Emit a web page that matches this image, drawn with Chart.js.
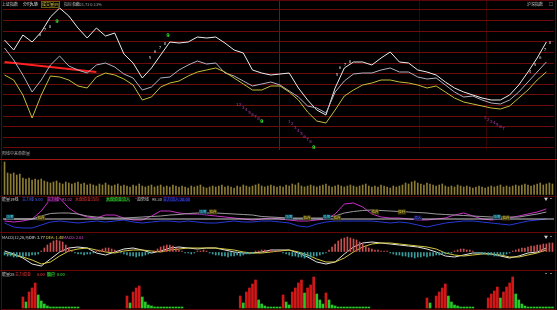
<!DOCTYPE html>
<html><head><meta charset="utf-8">
<script src="https://cdn.jsdelivr.net/npm/chart.js@4.4.0/dist/chart.umd.min.js"></script>
<style>
html,body{margin:0;padding:0;background:#000;}
#wrap{position:relative;width:557px;height:310px;background:#000;overflow:hidden;}
canvas{position:absolute;left:0;}
.t{position:absolute;font-family:"Noto Sans CJK SC","Noto Sans",sans-serif;font-size:4px;line-height:5px;white-space:nowrap;color:#c8c8c8;}
.hl{position:absolute;left:0;width:557px;height:1px;background:#6a0808;}
#frame{position:absolute;left:1px;top:0;width:553px;height:308px;border:1px solid #5a0606;}
</style></head><body>
<div id="wrap">
<canvas id="cMain" width="557" height="150" style="top:0"></canvas>
<canvas id="cVol" width="557" height="46" style="top:149px"></canvas>
<canvas id="cEng" width="557" height="36" style="top:196px"></canvas>
<canvas id="cMacd" width="557" height="38" style="top:232px"></canvas>
<canvas id="cBot" width="557" height="40" style="top:270px"></canvas>
<div id="frame"></div>
<div class="hl" style="top:159px;background:#a01414"></div>
<div class="hl" style="top:196px;background:#4a0606"></div>
<div class="hl" style="top:232px"></div>
<div class="hl" style="top:270px"></div>

<span class="t" style="left:2px;top:2px;color:#d0d0d0">上证指数</span>
<span class="t" style="left:23px;top:2px;color:#d0d0d0">分时</span>
<span class="t" style="left:30px;top:2px;color:#ffffff">九转</span>
<span class="t" style="left:42px;top:2px;color:#e8d850;outline:1px solid #6a5a10">成交量(R)</span>
<span class="t" style="left:64px;top:2px;color:#a8a8a8">指标参数</span>
<span class="t" style="left:75px;top:2px;color:#a8a8a8">2021.73 0.13%</span>
<span class="t" style="left:527px;top:2px;color:#c8c8c8">沪深指数</span>
<span class="t" style="left:549px;top:2px;color:#c8c8c8">□</span>

<span class="t" style="left:2px;top:151px;color:#a8a8a8">阳线中来单数量</span>

<span class="t" style="left:2px;top:197px;color:#c8c8c8">能量19线</span>
<span class="t" style="left:22px;top:197px;color:#4a64ff">主力线</span>
<span class="t" style="left:35px;top:197px;color:#4a64ff">5.00</span>
<span class="t" style="left:47px;top:197px;color:#e848e8;background:#3a0a3a">主力线</span>
<span class="t" style="left:62px;top:197px;color:#e848e8">92.02</span>
<span class="t" style="left:75px;top:197px;color:#ff3a3a">大盘资金流向</span>
<span class="t" style="left:106px;top:197px;color:#38e838;background:#0a300a">大盘资金流入</span>
<span class="t" style="left:134px;top:197px;color:#c8c8c8">·</span>
<span class="t" style="left:137px;top:197px;color:#c8c8c8">趋势线</span>
<span class="t" style="left:152px;top:197px;color:#c8c8c8">98.30</span>
<span class="t" style="left:163px;top:197px;color:#4a5aff;background:#0a0a40">主力流入 20.00</span>
<span class="t" style="left:544px;top:197px;color:#d0d0d0">▼ ▪</span>

<span class="t" style="left:2px;top:235px;color:#c8c8c8">MACD(12,26,9)</span>
<span class="t" style="left:29px;top:235px;color:#e8e8e8">DIF: 2.77</span>
<span class="t" style="left:46px;top:235px;color:#e8d850">DEA: 1.48</span>
<span class="t" style="left:63px;top:235px;color:#e848e8">MACD: 2.61</span>
<span class="t" style="left:544px;top:235px;color:#d0d0d0">▼ ▪</span>

<span class="t" style="left:2px;top:272px;color:#c8c8c8">能量28</span>
<span class="t" style="left:15px;top:272px;color:#ff3a3a">主力资金</span>
<span class="t" style="left:37px;top:272px;color:#ff3a3a">0.00</span>
<span class="t" style="left:47px;top:272px;color:#38e838;background:#0a300a">散户</span>
<span class="t" style="left:57px;top:272px;color:#38e838">0.00</span>
<span class="t" style="left:544px;top:272px;color:#d0d0d0">▪ ▪</span>
</div>
<script>
// ---------------- data ----------------
const N = 180;            // trading days in the window
const LINE_STEP = 3;      // sampling interval (days) of the line series

// main panel (relative price level)
const mainWhite  = [110,100,115,108,118,133,142,134,122,112,122,114,117,96,87,72,82,95,108,107,108,113,112,113,107,100,97,80,77,75,76,77,62,50,40,35,62,82,88,88,85,92,98,88,87,80,78,75,68,62,58,55,52,50,50,55,65,78,92,108];
const mainGrey   = [102,90,75,58,70,85,94,84,80,77,85,87,83,76,72,60,63,72,73,80,85,89,86,87,77,74,69,64,66,68,65,59,53,44,42,37,58,69,76,77,77,80,82,78,78,73,71,72,65,58,53,54,50,47,46,50,58,68,78,88];
const mainYellow = [75,70,55,32,55,74,73,70,64,62,73,77,75,71,65,50,53,63,67,69,74,78,80,82,78,72,66,60,60,64,64,58,50,38,29,27,40,54,60,65,67,70,70,68,67,65,62,64,58,52,48,46,44,42,41,44,52,60,70,78];
const trendDays   = [0, 30];
const trendLevels = [88, 78];
const dividerDays = [89.7, 135.4, 157.6];

// TD (九转) count labels
const tdWhiteDays   = [11.6,13.2,14.9, 47.5,49.2,50.8,52.4, 108.6,109.6,111.2,112.9, 171.7,173.3,175,176.6,178.2];
const tdWhiteLevels = [115,120,123, 92,98,102,106, 75,82,85,88, 78,85,92,100,107];
const tdWhiteTexts  = ['6','7','8','5','6','7','8','5','6','7','8','4','5','6','7','8'];
const tdGreenDays   = [17.1, 53.4, 84, 101];
const tdGreenLevels = [128, 114, 28, 2];
const tdGreenTexts  = ['9','9','9','9'];
const tdPinkDays    = [76,77,78,79,80,81,82,83, 93,94,95,96,97,98,99,100, 157,158,159,160,161,162,163];
const tdPinkLevels  = [45,45,42,40,37,35,33,31, 28,26,22,19,16,13,10,8, 32,30,28,27,25,23,21];
const tdPinkTexts   = ['1','2','3','4','5','6','7','8','1','2','3','4','5','6','7','8','1','2','3','4','5','6','7'];

// volume panel
const volume = [33,22,21,22,20,21,17,16,17,15, 16,15,16,14,13,12,13,14,12,11, 13,12,11,12,13,11,12,10,11,10,
 9,11,10,12,10,9,10,11,9,10, 9,8,10,9,11,9,8,9,10,8, 9,10,8,9,8,10,9,8,9,8,
 7,9,8,9,10,8,7,8,9,8, 9,10,8,9,8,7,9,8,10,9, 8,9,10,11,9,8,9,10,9,8,
 9,8,10,9,11,10,12,9,8,9, 10,9,8,9,10,11,9,8,9,10, 9,8,9,10,9,8,9,10,11,9,
 8,9,8,10,9,8,7,9,8,9, 10,12,11,13,14,12,11,10,12,11, 10,9,10,11,9,8,9,8,10,9,
 8,9,8,7,8,9,8,7,8,9, 8,9,10,8,9,8,9,10,9,10, 11,10,9,10,11,12,10,11,12,11];

// 能量19线 panel
const energyTrend = [13,13,13,13,16,18.5,19,19,18,16,15,14,14,14,14.5,15,15.5,16,17,17.5,18.5,19,19,19,18.5,18,17.5,17,15.5,15,14.5,14,14,14,14,14,16,19,20.5,21.5,22,21.5,21,20.5,20,19.5,19,18,17.5,17,16.5,16,15.5,15,15,15,15,16.5,18,20];
const energyMain  = [11,10,11,13,21,33,34,24,18,15,14,17,17,14,12,12,16,21,21,19,18,18,17,16,15,14,13,12,13,14,13,12,11,11,12,13,18,28,29,25,18,15,14,14,13,12,12,13,14,17,19,16,13,12,13,14,16,18,20,23];
const energyBlue  = [9,5,4,4,7,10,11,10,9,10,11,10,11,12,10,9,10,11,11,10,11,10,9,9,10,11,10,10,11,11,10,9,6,5,8,10,11,11,11,11,11,10,9,10,9,7,5,7,9,10,11,11,10,9,8,7,9,11,12,13];
const energyBaseLevel = 13;
const energyMarkDays   = [1.8,11.9,64.8,68.1,92.9,98.8,105.3,108.6,121,129.8,135,160.9,163.8];
const energyMarkLevels = [15,14,20,20,15,14,15,14,20,20,14,15,14];
const energyMarkTexts  = ['吸筹','拉升','吸筹','拉升','吸筹','拉升','吸筹','拉升','拉升','拉升','流入','吸筹','拉升'];

// MACD panel
const macdDif = [1,-2,-6,-12,-14,-7,0,4,5,4,-1,-3,0,3,4,2,-1,1,4,5,4,3,4,4,2,0,-1,-1,0,2,2,2,-1,-5,-10,-12,-10,-2,5,9,10,9,8,7,6,5,3,0,-4,-5,-3,-1,-1,-2,-4,-6,-4,-1,0,4];
const macdDea = [-1,-3,-5,-8,-12,-10,-4,1,3,4,2,0,-1,1,2,2,1,0,2,3,4,4,4,4,3,2,0,-1,-1,0,1,2,0,-3,-7,-10,-10,-6,0,5,8,9,9,8,7,6,5,3,-1,-3,-4,-3,-2,-2,-3,-5,-5,-3,-1,2];
const macdHist = [-3,-4,-4,-5,-5,-4,-5,-4,-4,-3, -3,-2,1,4,7,9,11,12,11,10, 7,4,1,-1,-2,-2,-3,-2,-2,-1,
 1,2,3,4,4,3,2,1,-1,-2, -3,-4,-4,-5,-4,-4,-3,-2,-1,1, 3,5,6,7,7,6,4,2,1,-1,
 -1,-2,-1,1,1,2,1,-1,-2,-3, -3,-4,-4,-5,-4,-4,-3,-4,-3,-2, -2,-1,1,1,2,2,1,2,1,1,
 1,-1,-2,-3,-4,-4,-5,-5,-6,-5, -5,-4,-4,-3,-2,-1,2,5,8,11, 13,14,15,14,13,12,10,8,6,4,
 3,2,2,1,1,1,-1,-2,-3,-3, -4,-4,-5,-5,-6,-5,-5,-4,-5,-4, -4,-3,-3,-2,-2,-1,-1,1,2,3,
 3,2,2,1,-1,-1,-2,-2,-3,-3, -4,-4,-3,-3,-2,-1,1,2,3,4, 4,5,6,6,7,7,8,8,9,9];

// 能量28 panel (sparse bars)
const redDays   = [6,8,9,10, 40,42,43,44, 77,79,80,81,82, 91,94,95,96,97,99,100,101,105, 138,141,142,143,144, 158,159,160,161,163,164,165,166];
const redValues = [11,16,20,25, 12,16,20,22, 12,16,20,24,28, 13,16,20,25,28,20,23,31,15, 10,12,16,20,24, 10,14,17,21,16,21,25,31];
const greenDays = [7,11,12,13,14,15,16,17,18,19,20,21,22,23,24,
 41,45,46,47,48,49,50,51,52,53,54,55,56,57,58,
 78,83,84,85,86,87,88,89,90,
 92,93,98,102,103,104,106,107,108,109,110,111,112,113,114,115,116,117,118,119,
 139,145,146,147,148,149,150,151,152,153,
 162,167,168,169,170,171,172,173,174,175,176,177,178,179];
const greenValues = [6,13,7,4,2,1,1,1,1,1,1,1,1,1,1,
 5,11,6,3,2,1,1,1,1,1,1,1,1,1,1,
 5,8,4,2,1,1,1,1,1,
 6,3,15,14,8,4,8,3,2,1,1,1,1,1,1,1,1,1,1,1,
 5,12,6,3,2,1,1,1,1,1,
 10,14,8,4,2,1,1,1,1,1,1,1,1,1];

// ---------------- helpers ----------------
const pts  = arr => arr.map((v, i) => ({x: i * LINE_STEP, y: v}));
const bars = arr => arr.map((v, i) => ({x: i, y: v}));
const sparse = (days, vals) => days.map((d, i) => ({x: d, y: vals[i]}));

const lblPlugin = {
  id: 'lbl',
  afterDatasetsDraw(chart, a, opts) {
    const ctx = chart.ctx, xs = chart.scales.x, ys = chart.scales.y;
    (opts.items || []).forEach(g => {
      ctx.save();
      ctx.font = g.font; ctx.textAlign = 'center'; ctx.textBaseline = 'middle';
      g.days.forEach((d, i) => {
        const px = xs.getPixelForValue(d), py = ys.getPixelForValue(g.levels[i]);
        const t = g.texts[i];
        if (g.bg) {
          const w = ctx.measureText(t).width + 1;
          ctx.fillStyle = g.bg(t); ctx.fillRect(px - w / 2, py - 2.5, w, 5);
        }
        ctx.fillStyle = typeof g.color === 'function' ? g.color(t) : g.color;
        ctx.fillText(t, px, py);
      });
      ctx.restore();
    });
  }
};
Chart.register(lblPlugin);

function opts(o) {
  const x = {type: 'linear', offset: false, min: -0.5, max: N - 0.5, ticks: {display: false}, border: {display: false},
    grid: {drawTicks: false, offset: false, color: o.vColors || 'transparent', lineWidth: 1}, afterFit: s => { s.height = 0; }};
  if (o.vLines) x.afterBuildTicks = s => { s.ticks = o.vLines.map(v => ({value: v})); };
  const y = {type: 'linear', min: o.min, max: o.max, ticks: {display: false}, border: {display: false},
    grid: {drawTicks: false, color: o.hColor || 'transparent', lineWidth: 1}, afterFit: s => { s.width = 0; }};
  if (o.hLines) y.afterBuildTicks = s => { s.ticks = o.hLines.map(v => ({value: v})); };
  return {
    responsive: false, animation: false, events: [],
    layout: {padding: {left: 3, right: 3, top: 0, bottom: 0}},
    plugins: {legend: {display: false}, tooltip: {enabled: false}, lbl: {items: o.labels || []}},
    elements: {point: {radius: 0}, line: {borderWidth: 1, tension: 0}},
    scales: {x, y}
  };
}
const lineDs = (data, color, w) => ({type: 'line', data, borderColor: color, borderWidth: w || 1, pointRadius: 0, fill: false});

// ---------------- main panel ----------------
const mainGrid = [];
for (let k = 0; k < 14; k++) mainGrid.push(150 - (10 + 10.6 * k));
new Chart(document.getElementById('cMain'), {
  type: 'line',
  data: {datasets: [
    lineDs(pts(mainYellow), '#c8bc3c'),
    lineDs(pts(mainGrey), '#b0b0c0'),
    lineDs(pts(mainWhite), '#ececec'),
    lineDs(sparse(trendDays, trendLevels), '#ff2020', 2)
  ]},
  options: opts({min: 0, max: 150, hLines: mainGrid, hColor: '#6e0c0c',
    vLines: dividerDays, vColors: ['#7a1010', '#2e0606', '#2e0606'],
    labels: [
      {font: '4px "DejaVu Sans"', color: '#c8c8c8', days: tdWhiteDays, levels: tdWhiteLevels, texts: tdWhiteTexts},
      {font: '4px "DejaVu Sans"', color: '#b838b8', days: tdPinkDays, levels: tdPinkLevels, texts: tdPinkTexts},
      {font: 'bold 5px "DejaVu Sans"', color: '#30e030', days: tdGreenDays, levels: tdGreenLevels, texts: tdGreenTexts}
    ]})
});

// ---------------- volume panel ----------------
new Chart(document.getElementById('cVol'), {
  type: 'line',
  data: {datasets: [{type: 'bar', data: bars(volume), backgroundColor: '#8c7c34', barThickness: 1}]},
  options: opts({min: 0, max: 46})
});

// ---------------- 能量19线 panel ----------------
const markColor = t => t === '吸筹' ? '#40d8e8' : (t === '流入' ? '#5060ff' : '#e8d850');
const markBg = t => t === '吸筹' ? 'rgba(20,60,80,0.9)' : (t === '流入' ? 'rgba(20,20,80,0.9)' : 'rgba(70,60,10,0.9)');
new Chart(document.getElementById('cEng'), {
  type: 'line',
  data: {datasets: [
    lineDs(sparse([-0.5, N - 0.5], [energyBaseLevel, energyBaseLevel]), '#c8c8c8'),
    lineDs(pts(energyBlue), '#2838d8'),
    lineDs(pts(energyTrend), '#9a9a9a'),
    lineDs(pts(energyMain), '#c830c8')
  ]},
  options: opts({min: 0, max: 36,
    labels: [{font: '3.5px "Noto Sans CJK SC"', color: markColor, bg: markBg,
      days: energyMarkDays, levels: energyMarkLevels, texts: energyMarkTexts}]})
});

// ---------------- MACD panel ----------------
new Chart(document.getElementById('cMacd'), {
  type: 'line',
  data: {datasets: [
    {type: 'bar', data: bars(macdHist), barThickness: 1,
     backgroundColor: c => (c.raw && c.raw.y >= 0) ? '#c85050' : '#3a9c9c'},
    lineDs(pts(macdDea), '#d4c840'),
    lineDs(pts(macdDif), '#e4e4e4')
  ]},
  options: opts({min: -18, max: 20})
});

// ---------------- 能量28 panel ----------------
new Chart(document.getElementById('cBot'), {
  type: 'line',
  data: {datasets: [
    {type: 'bar', data: sparse(redDays, redValues), backgroundColor: '#d01818', barThickness: 2, grouped: false},
    {type: 'bar', data: sparse(greenDays, greenValues), backgroundColor: '#28c828', barThickness: 2, grouped: false}
  ]},
  options: opts({min: -2, max: 38})
});
</script>
</body></html>
